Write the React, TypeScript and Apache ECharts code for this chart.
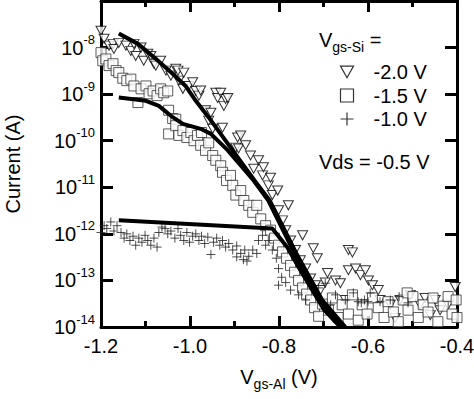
import React, { useEffect, useRef } from 'react';
import * as echarts from 'echarts';

const FONT = '"Liberation Sans", Arial, Helvetica, sans-serif';

const xTicks = { min: -1.2, max: -0.4, step: 0.2 };
const yRange = { min: 1e-14, max: 1e-7 };
const legendNames = ['-2.0 V', '-1.5 V', '-1.0 V'];

// Vgs-Si = -2.0 V (down triangles)
const tri: [number, number][] = [
  [-1.2, 2.3e-8], [-1.193, 1.55e-8], [-1.182, 1.1e-8], [-1.173, 1.2e-8], [-1.171, 9.3e-9],
  [-1.16, 1.26e-8], [-1.144, 1.1e-8], [-1.133, 8.5e-9], [-1.126, 1.2e-8], [-1.122, 6.6e-9],
  [-1.11, 1.0e-8], [-1.104, 5.2e-9], [-1.095, 7.4e-9], [-1.088, 6.6e-9], [-1.081, 4.5e-9],
  [-1.077, 4.1e-9], [-1.066, 5.2e-9], [-1.054, 3.2e-9], [-1.043, 2.5e-9], [-1.032, 3.5e-9],
  [-1.027, 3.2e-9], [-1.025, 1.95e-9], [-1.016, 1.3e-9], [-1.014, 2.9e-9], [-1.003, 1.5e-9],
  [-0.994, 1.8e-9], [-0.987, 1.17e-9], [-0.98, 9.3e-10], [-0.976, 1.2e-9], [-0.965, 4.5e-10],
  [-0.958, 2.7e-10], [-0.953, 4.0e-10], [-0.949, 1.8e-10], [-0.942, 1.07e-9], [-0.938, 8.3e-10],
  [-0.931, 1.07e-9], [-0.927, 1.9e-10], [-0.924, 5.6e-10], [-0.92, 7.9e-10], [-0.915, 8.3e-10],
  [-0.897, 7.1e-11], [-0.893, 1.17e-10], [-0.891, 6.8e-11], [-0.886, 1.3e-10], [-0.875, 8.0e-11],
  [-0.864, 4.8e-11], [-0.857, 2.5e-11], [-0.846, 3.8e-11], [-0.837, 1.8e-11], [-0.835, 2.7e-11],
  [-0.824, 1.1e-11], [-0.819, 1.6e-11], [-0.815, 6.8e-12], [-0.803, 8.5e-12], [-0.801, 3.2e-12],
  [-0.792, 1.95e-12], [-0.785, 1.2e-12], [-0.779, 4.1e-12], [-0.774, 7.2e-13], [-0.763, 4.5e-13],
  [-0.752, 2.7e-13], [-0.747, 9.3e-13], [-0.74, 1.8e-13], [-0.729, 1.1e-13], [-0.723, 4.9e-13],
  [-0.718, 7.9e-14], [-0.714, 3.0e-13], [-0.707, 6.2e-14], [-0.696, 9.0e-14], [-0.691, 1.45e-13],
  [-0.673, 1.0e-13], [-0.662, 8.7e-14], [-0.651, 3.8e-14], [-0.644, 1.65e-13], [-0.644, 4.5e-13],
  [-0.635, 4.0e-13], [-0.628, 1.8e-13], [-0.617, 1.3e-13], [-0.606, 1.65e-13], [-0.599, 1.0e-13],
  [-0.59, 7.9e-14], [-0.577, 6.2e-14], [-0.573, 3.8e-14], [-0.55, 3.0e-14], [-0.539, 1.55e-14],
  [-0.528, 3.8e-14], [-0.505, 4.9e-14], [-0.483, 3.0e-14], [-0.472, 4.2e-14], [-0.46, 1.8e-14],
  [-0.449, 3.8e-14], [-0.438, 2.3e-14], [-0.42, 3.0e-14], [-0.404, 7.2e-14],
];

// Vgs-Si = -1.5 V (squares)
const sq: [number, number][] = [
  [-1.2, 7.8e-9], [-1.196, 5.2e-9], [-1.189, 5.7e-9], [-1.182, 4.1e-9], [-1.173, 4.5e-9],
  [-1.166, 3.2e-9], [-1.16, 2.9e-9], [-1.151, 2.2e-9], [-1.142, 1.95e-9], [-1.133, 2.1e-9],
  [-1.126, 1.5e-9], [-1.117, 6.6e-10], [-1.11, 1.3e-9], [-1.099, 1.5e-9], [-1.092, 1.02e-9],
  [-1.083, 1.17e-9], [-1.074, 9.3e-10], [-1.066, 1.3e-9], [-1.059, 1.07e-9], [-1.05, 1.17e-9],
  [-1.048, 4.5e-10], [-1.039, 3.0e-10], [-1.032, 2.9e-10], [-1.048, 1.4e-10], [-1.032, 2.1e-10],
  [-1.025, 1.3e-10], [-1.016, 1.65e-10], [-1.007, 1.17e-10], [-0.998, 1.5e-10], [-0.991, 1.0e-10],
  [-0.983, 1.3e-10], [-0.974, 1.5e-10], [-0.976, 8.0e-11], [-0.965, 6.2e-11], [-0.958, 9.0e-11],
  [-0.949, 4.8e-11], [-0.942, 3.8e-11], [-0.931, 2.9e-11], [-0.927, 2.1e-11], [-0.918, 1.4e-11],
  [-0.909, 1.8e-11], [-0.904, 1.1e-11], [-0.897, 6.8e-12], [-0.886, 8.5e-12], [-0.879, 5.2e-12],
  [-0.868, 4.1e-12], [-0.859, 2.9e-12], [-0.85, 4.1e-12], [-0.841, 2.1e-12], [-0.83, 1.5e-12],
  [-0.819, 1.2e-12], [-0.81, 8.1e-13], [-0.801, 5.7e-13], [-0.792, 4.1e-13], [-0.783, 3.0e-13],
  [-0.774, 2.1e-13], [-0.765, 1.5e-13], [-0.756, 1.0e-13], [-0.747, 6.9e-14], [-0.738, 5.1e-14],
  [-0.729, 3.8e-14], [-0.72, 2.6e-14], [-0.711, 1.7e-14], [-0.702, 3.1e-14], [-0.689, 2.3e-14],
  [-0.68, 4.2e-14], [-0.667, 1.6e-14], [-0.658, 3.0e-14], [-0.644, 1.9e-14], [-0.635, 4.9e-14],
  [-0.622, 1.4e-14], [-0.613, 3.0e-14], [-0.602, 1.9e-14], [-0.59, 4.2e-14], [-0.577, 2.6e-14],
  [-0.564, 1.6e-14], [-0.555, 3.5e-14], [-0.543, 2.1e-14], [-0.532, 1.3e-14], [-0.521, 3.8e-14],
  [-0.512, 5.4e-14], [-0.51, 2.3e-14], [-0.499, 4.5e-14], [-0.487, 1.6e-14], [-0.476, 3.0e-14],
  [-0.465, 2.1e-14], [-0.454, 4.2e-14], [-0.443, 1.3e-14], [-0.431, 2.8e-14], [-0.42, 4.5e-14],
  [-0.411, 1.9e-14], [-0.402, 3.8e-14], [-0.4, 1.6e-14],
];

// Vgs-Si = -1.0 V (pluses)
const plus: [number, number][] = [
  [-1.2, 1.07e-12], [-1.193, 1.5e-12], [-1.187, 1.3e-12], [-1.178, 1.8e-12], [-1.171, 1.15e-12],
  [-1.164, 1.5e-12], [-1.155, 1.07e-12], [-1.148, 8.1e-13], [-1.142, 1.0e-12], [-1.135, 7.2e-13],
  [-1.128, 8.9e-13], [-1.122, 5.7e-13], [-1.115, 8.1e-13], [-1.108, 6.6e-13], [-1.101, 9.3e-13],
  [-1.095, 7.2e-13], [-1.088, 5.7e-13], [-1.081, 8.1e-13], [-1.074, 5.2e-13], [-1.07, 1.07e-12],
  [-1.063, 1.4e-12], [-1.056, 1.3e-12], [-1.05, 1.0e-12], [-1.043, 1.15e-12], [-1.034, 8.1e-13],
  [-1.027, 1.3e-12], [-1.021, 9.3e-13], [-1.014, 7.2e-13], [-1.007, 1.07e-12], [-1.001, 6.6e-13],
  [-0.994, 8.9e-13], [-0.987, 1.0e-12], [-0.98, 7.2e-13], [-0.974, 8.9e-13], [-0.967, 6.2e-13],
  [-0.96, 8.5e-13], [-0.953, 3.6e-13], [-0.947, 6.6e-13], [-0.94, 8.1e-13], [-0.933, 5.7e-13],
  [-0.927, 7.2e-13], [-0.92, 5.2e-13], [-0.913, 6.2e-13], [-0.904, 4.5e-13], [-0.895, 5.5e-13],
  [-0.895, 3.2e-13], [-0.886, 3.8e-13], [-0.88, 2.8e-13], [-0.877, 4.5e-13], [-0.872, 2.6e-13],
  [-0.868, 3.3e-13], [-0.859, 4.5e-13], [-0.85, 3.8e-13], [-0.846, 7.2e-13], [-0.837, 9.3e-13],
  [-0.83, 5.7e-13], [-0.824, 7.2e-13], [-0.815, 4.5e-13], [-0.806, 3.0e-13], [-0.801, 1.8e-13],
  [-0.794, 1.17e-13], [-0.801, 7.9e-14], [-0.785, 9.0e-14], [-0.774, 6.2e-14], [-0.756, 4.9e-14],
  [-0.74, 3.8e-14], [-0.711, 6.9e-14], [-0.696, 8.7e-14], [-0.684, 3.0e-14], [-0.673, 4.9e-14],
  [-0.651, 3.8e-14], [-0.633, 5.4e-14], [-0.622, 3.5e-14], [-0.615, 3.3e-14], [-0.608, 3.8e-14],
  [-0.6, 3.5e-14], [-0.595, 5.4e-14], [-0.573, 3.5e-14], [-0.55, 3.8e-14], [-0.53, 4.5e-14],
  [-0.51, 3.3e-14],
];

// Simulated / fitted curves (thick black lines)
const fit20: [number, number][] = [
  [-1.16, 2.0e-8], [-1.117, 1.2e-8], [-1.077, 5.75e-9], [-1.039, 2.75e-9], [-1.01, 1.5e-9],
  [-0.987, 7.2e-10], [-0.958, 3.16e-10], [-0.855, 1.4e-11], [-0.821, 5.2e-12], [-0.761, 3.8e-13],
  [-0.703, 3.8e-14], [-0.651, 1.0e-14],
];
const fit15: [number, number][] = [
  [-1.16, 8.5e-10], [-1.099, 7.2e-10], [-1.07, 5.6e-10], [-1.039, 3.2e-10], [-1.016, 2.3e-10],
  [-0.976, 1.8e-10], [-0.953, 1.4e-10], [-0.915, 6.2e-11], [-0.886, 2.95e-11], [-0.857, 1.4e-11],
  [-0.824, 5.2e-12], [-0.765, 3.8e-13], [-0.707, 3.8e-14], [-0.658, 1.0e-14],
];
const fit10: [number, number][] = [
  [-1.16, 1.95e-12], [-0.815, 1.3e-12], [-0.781, 5.1e-13], [-0.752, 1.65e-13], [-0.698, 2.3e-14],
  [-0.662, 1.0e-14],
];

const triPath = 'path://M0,0L10,0L5,9Z';
const plusPath = 'path://M5,0L5,10M0,5L10,5';

export default function App() {
  const ref = useRef<HTMLDivElement>(null);
  useEffect(() => {
    const chart = echarts.init(ref.current!, null, { renderer: 'svg' });
    const axisLine = { show: true, lineStyle: { color: '#000', width: 3 } };
    const tickStyle = { color: '#000', width: 3 };
    const xCommon = {
      type: 'value',
      min: xTicks.min,
      max: xTicks.max,
      interval: xTicks.step,
      axisLine,
      axisTick: { show: true, inside: true, length: 11, lineStyle: tickStyle },
      minorTick: { show: true, splitNumber: 2, length: 6, lineStyle: tickStyle },
      splitLine: { show: false },
      minorSplitLine: { show: false },
    };
    const yCommon = {
      type: 'log',
      logBase: 10,
      min: yRange.min,
      max: yRange.max,
      splitNumber: 7,
      axisLine,
      axisTick: { show: true, inside: true, length: 12, lineStyle: tickStyle },
      minorTick: { show: false },
      splitLine: { show: false },
    };
    const scatterBase = {
      type: 'scatter',
      xAxisIndex: 0,
      yAxisIndex: 0,
    };
    chart.setOption({
      animation: false,
      backgroundColor: '#fff',
      textStyle: { fontFamily: FONT, color: '#000' },
      grid: { left: 101, right: 17, top: 1, bottom: 72, containLabel: false, outerBoundsMode: 'none' },
      xAxis: [
        {
          ...xCommon,
          position: 'bottom',
          axisLabel: {
            show: true,
            fontSize: 20,
            color: '#000',
            fontFamily: FONT,
            margin: 9,
            formatter: (v: number) => v.toFixed(1),
          },
          name: '{v|V}{s|gs-Al}{v| (V)}',
          nameLocation: 'middle',
          nameGap: 40,
          nameTextStyle: {
            color: '#000',
            fontFamily: FONT,
            fontSize: 20,
            rich: {
              v: { fontSize: 20, lineHeight: 20, fontFamily: FONT, color: '#000' },
              s: { fontSize: 14, lineHeight: 14, padding: [13, 0, 0, 0], fontFamily: FONT, color: '#000' },
            },
          },
        },
        { ...xCommon, position: 'top', axisLabel: { show: false } },
      ],
      yAxis: [
        {
          ...yCommon,
          position: 'left',
          axisLabel: {
            show: true,
            margin: 6,
            showMaxLabel: false,
            formatter: (v: number) => `{b|10}{s|${Math.round(Math.log10(v))}}`,
            rich: {
              b: { fontSize: 20, lineHeight: 20, fontFamily: FONT, color: '#000' },
              s: { fontSize: 13, lineHeight: 13, padding: [0, 0, 16, 0], fontFamily: FONT, color: '#000' },
            },
          },
          name: 'Current (A)',
          nameLocation: 'middle',
          nameGap: 78,
          nameTextStyle: { fontSize: 20, color: '#000', fontFamily: FONT },
        },
        { ...yCommon, position: 'right', axisLabel: { show: false } },
      ],
      legend: {
        data: legendNames,
        orient: 'vertical',
        left: 333,
        top: 57,
        itemWidth: 13,
        itemHeight: 13,
        itemGap: 3.5,
        selectedMode: false,
        itemStyle: { borderWidth: 1.2, borderColor: '#000' },
        textStyle: {
          fontSize: 20,
          lineHeight: 20,
          color: '#000',
          fontFamily: FONT,
          padding: [0, 0, 0, 15],
        },
      },
      graphic: [
        {
          type: 'text',
          x: 319,
          y: 40,
          style: {
            text: '{v|V}{s|gs-Si}{v| =}',
            verticalAlign: 'middle',
            align: 'left',
            fill: '#000',
            rich: {
              v: { fontSize: 20, lineHeight: 20, fontFamily: FONT, fill: '#000' },
              s: { fontSize: 14, lineHeight: 14, padding: [13, 0, 0, 0], fontFamily: FONT, fill: '#000' },
            },
          },
        },
        {
          type: 'text',
          x: 319,
          y: 162,
          style: {
            text: 'Vds = -0.5 V',
            fontSize: 20,
            fontFamily: FONT,
            fill: '#000',
            verticalAlign: 'middle',
            align: 'left',
          },
        },
      ],
      series: [
        {
          ...scatterBase,
          name: legendNames[0],
          symbol: triPath,
          symbolSize: [10, 9],
          itemStyle: { color: '#fff', borderColor: '#000', borderWidth: 1 },
          data: tri,
          z: 2,
        },
        {
          ...scatterBase,
          name: legendNames[1],
          symbol: 'rect',
          symbolSize: 10,
          itemStyle: { color: '#fff', borderColor: '#333', borderWidth: 1 },
          data: sq,
          z: 3,
        },
        {
          ...scatterBase,
          name: legendNames[2],
          symbol: plusPath,
          symbolSize: 9,
          itemStyle: { color: 'none', borderColor: '#222', borderWidth: 1 },
          data: plus,
          z: 4,
        },
        ...[fit20, fit15, fit10].map((d, i) => ({
          type: 'line',
          name: 'fit' + i,
          data: d,
          symbol: 'none',
          showSymbol: false,
          lineStyle: { color: '#000', width: 4 },
          z: 6,
          clip: true,
        })),
      ],
    });
    return () => chart.dispose();
  }, []);
  return (
    <div
      ref={ref}
      style={{ position: 'absolute', left: 0, top: 0, width: 474, height: 399 }}
    />
  );
}
